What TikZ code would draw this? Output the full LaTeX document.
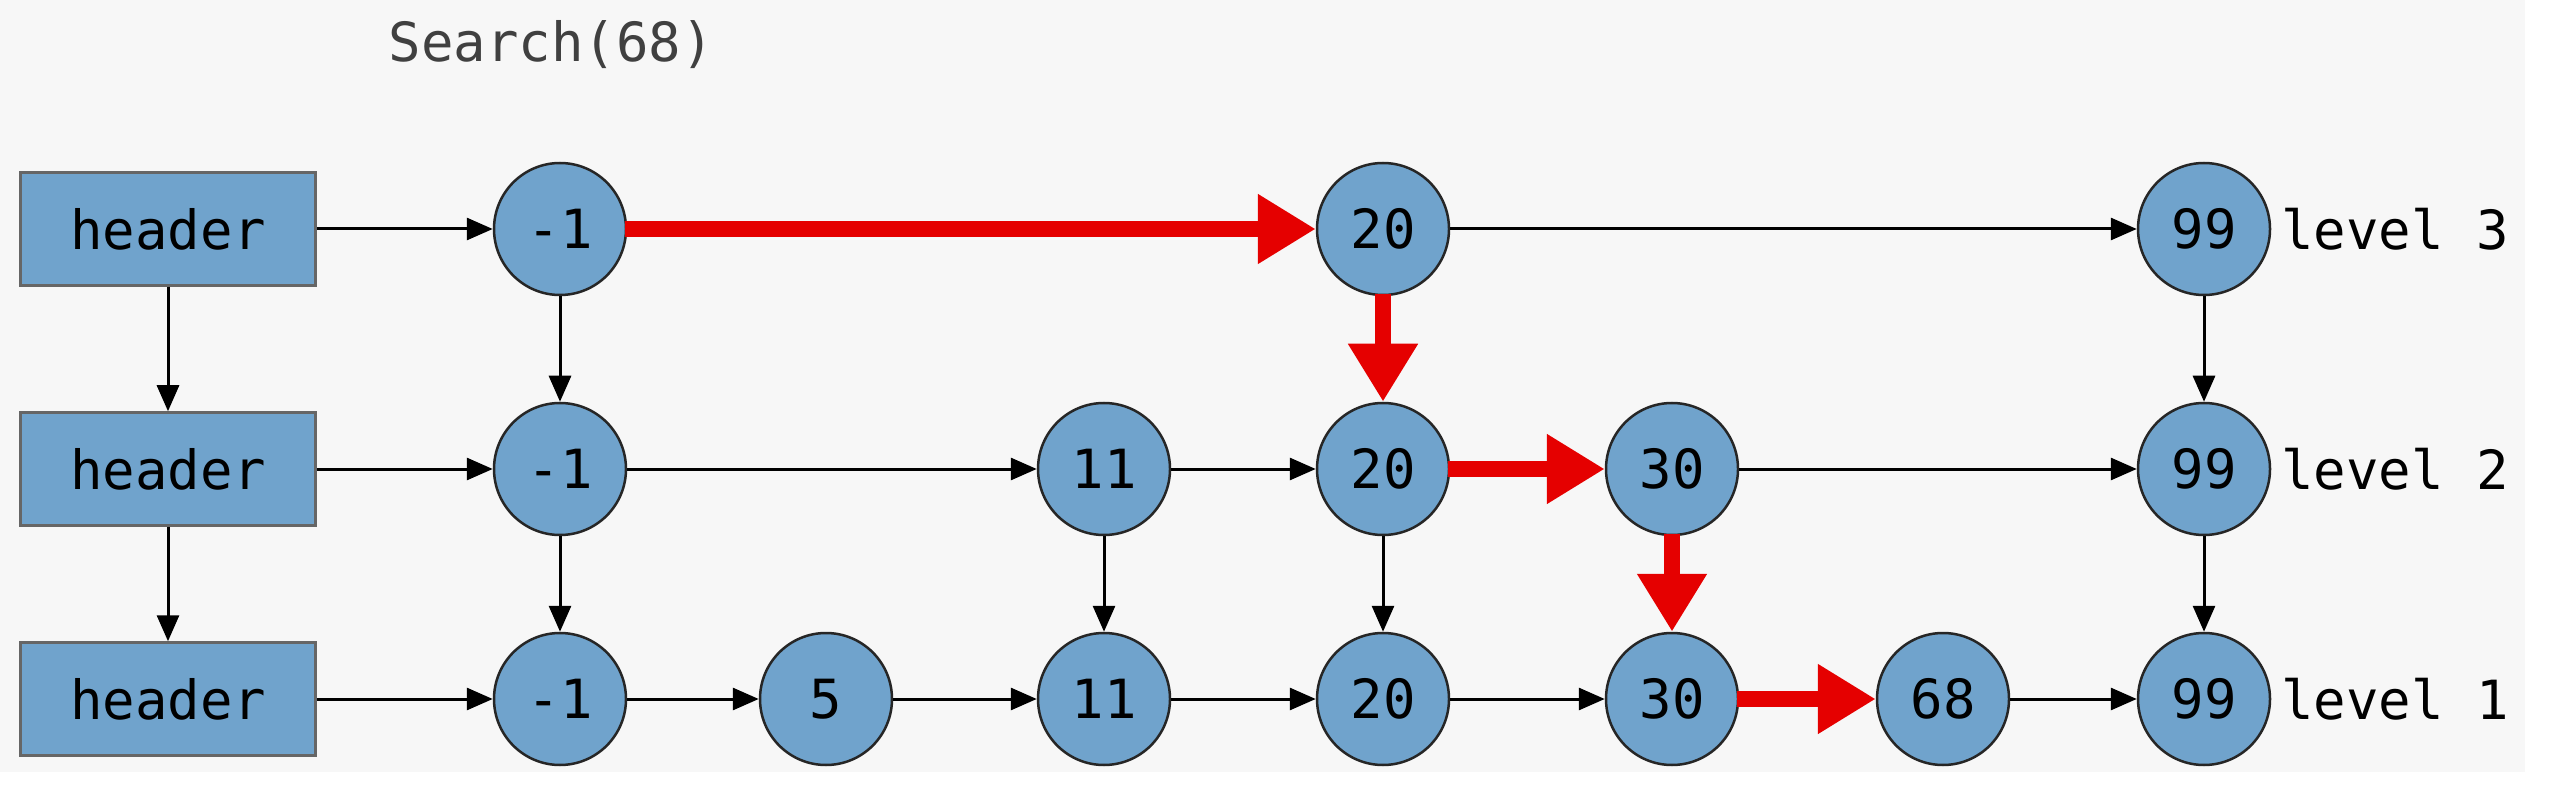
\documentclass[tikz,border=0pt]{standalone}
\usepackage{fontspec}
\setmonofont{DejaVu Sans Mono}
\usetikzlibrary{arrows.meta}
\definecolor{nodeblue}{RGB}{112,163,204}
\definecolor{bg}{RGB}{247,247,247}
\begin{document}
\begin{tikzpicture}[x=1pt,y=1pt,
  every node/.style={font=\ttfamily\fontsize{54}{60}\selectfont},
  hbox/.style={draw=black!60,line width=2.5pt,fill=nodeblue,minimum width=295pt,minimum height=113pt,inner sep=0pt},
  circ/.style={draw=black!85,line width=2.5pt,fill=nodeblue,circle,minimum size=132pt,inner sep=0pt},
  blk/.style={-{Triangle[length=26pt,width=22pt]},line width=3pt,black},
  red/.style={-{Triangle[length=58pt,width=66pt]},line width=16pt,red!90!black,shorten <=-2pt}]
\fill[white] (0,0) rectangle (2560,-791);
\fill[bg] (0,0) rectangle (2525,-772);
\node[text=black!75,anchor=west] (title) at (385,-45) {Search(68)};
\foreach \r/\y in {3/-229,2/-469,1/-699}{
  \node[hbox] (h\r) at (168,\y) {header};
}
% level 3
\node[circ] (a3) at (560,-229) {-1};
\node[circ] (d3) at (1383,-229) {20};
\node[circ] (g3) at (2204,-229) {99};
% level 2
\node[circ] (a2) at (560,-469) {-1};
\node[circ] (c2) at (1104,-469) {11};
\node[circ] (d2) at (1383,-469) {20};
\node[circ] (e2) at (1672,-469) {30};
\node[circ] (g2) at (2204,-469) {99};
% level 1
\node[circ] (a1) at (560,-699) {-1};
\node[circ] (b1) at (826,-699) {5};
\node[circ] (c1) at (1104,-699) {11};
\node[circ] (d1) at (1383,-699) {20};
\node[circ] (e1) at (1672,-699) {30};
\node[circ] (f1) at (1943,-699) {68};
\node[circ] (g1) at (2204,-699) {99};
\foreach \r in {3,2,1}{
  \node[anchor=west,inner sep=0pt] (l\r) at ([xshift=10pt]g\r.east) {level \r};
}
% black arrows
\draw[blk] (h3) -- (a3);
\draw[blk] (d3) -- (g3);
\draw[blk] (h2) -- (a2);
\draw[blk] (a2) -- (c2);
\draw[blk] (c2) -- (d2);
\draw[blk] (e2) -- (g2);
\draw[blk] (h1) -- (a1);
\draw[blk] (a1) -- (b1);
\draw[blk] (b1) -- (c1);
\draw[blk] (c1) -- (d1);
\draw[blk] (d1) -- (e1);
\draw[blk] (f1) -- (g1);
\draw[blk] (h3) -- (h2);
\draw[blk] (h2) -- (h1);
\draw[blk] (a3) -- (a2);
\draw[blk] (a2) -- (a1);
\draw[blk] (c2) -- (c1);
\draw[blk] (d2) -- (d1);
\draw[blk] (g3) -- (g2);
\draw[blk] (g2) -- (g1);
% red search path
\draw[red] (a3) -- (d3);
\draw[red] (d3) -- (d2);
\draw[red] (d2) -- (e2);
\draw[red] (e2) -- (e1);
\draw[red] (e1) -- (f1);
\end{tikzpicture}
\end{document}
